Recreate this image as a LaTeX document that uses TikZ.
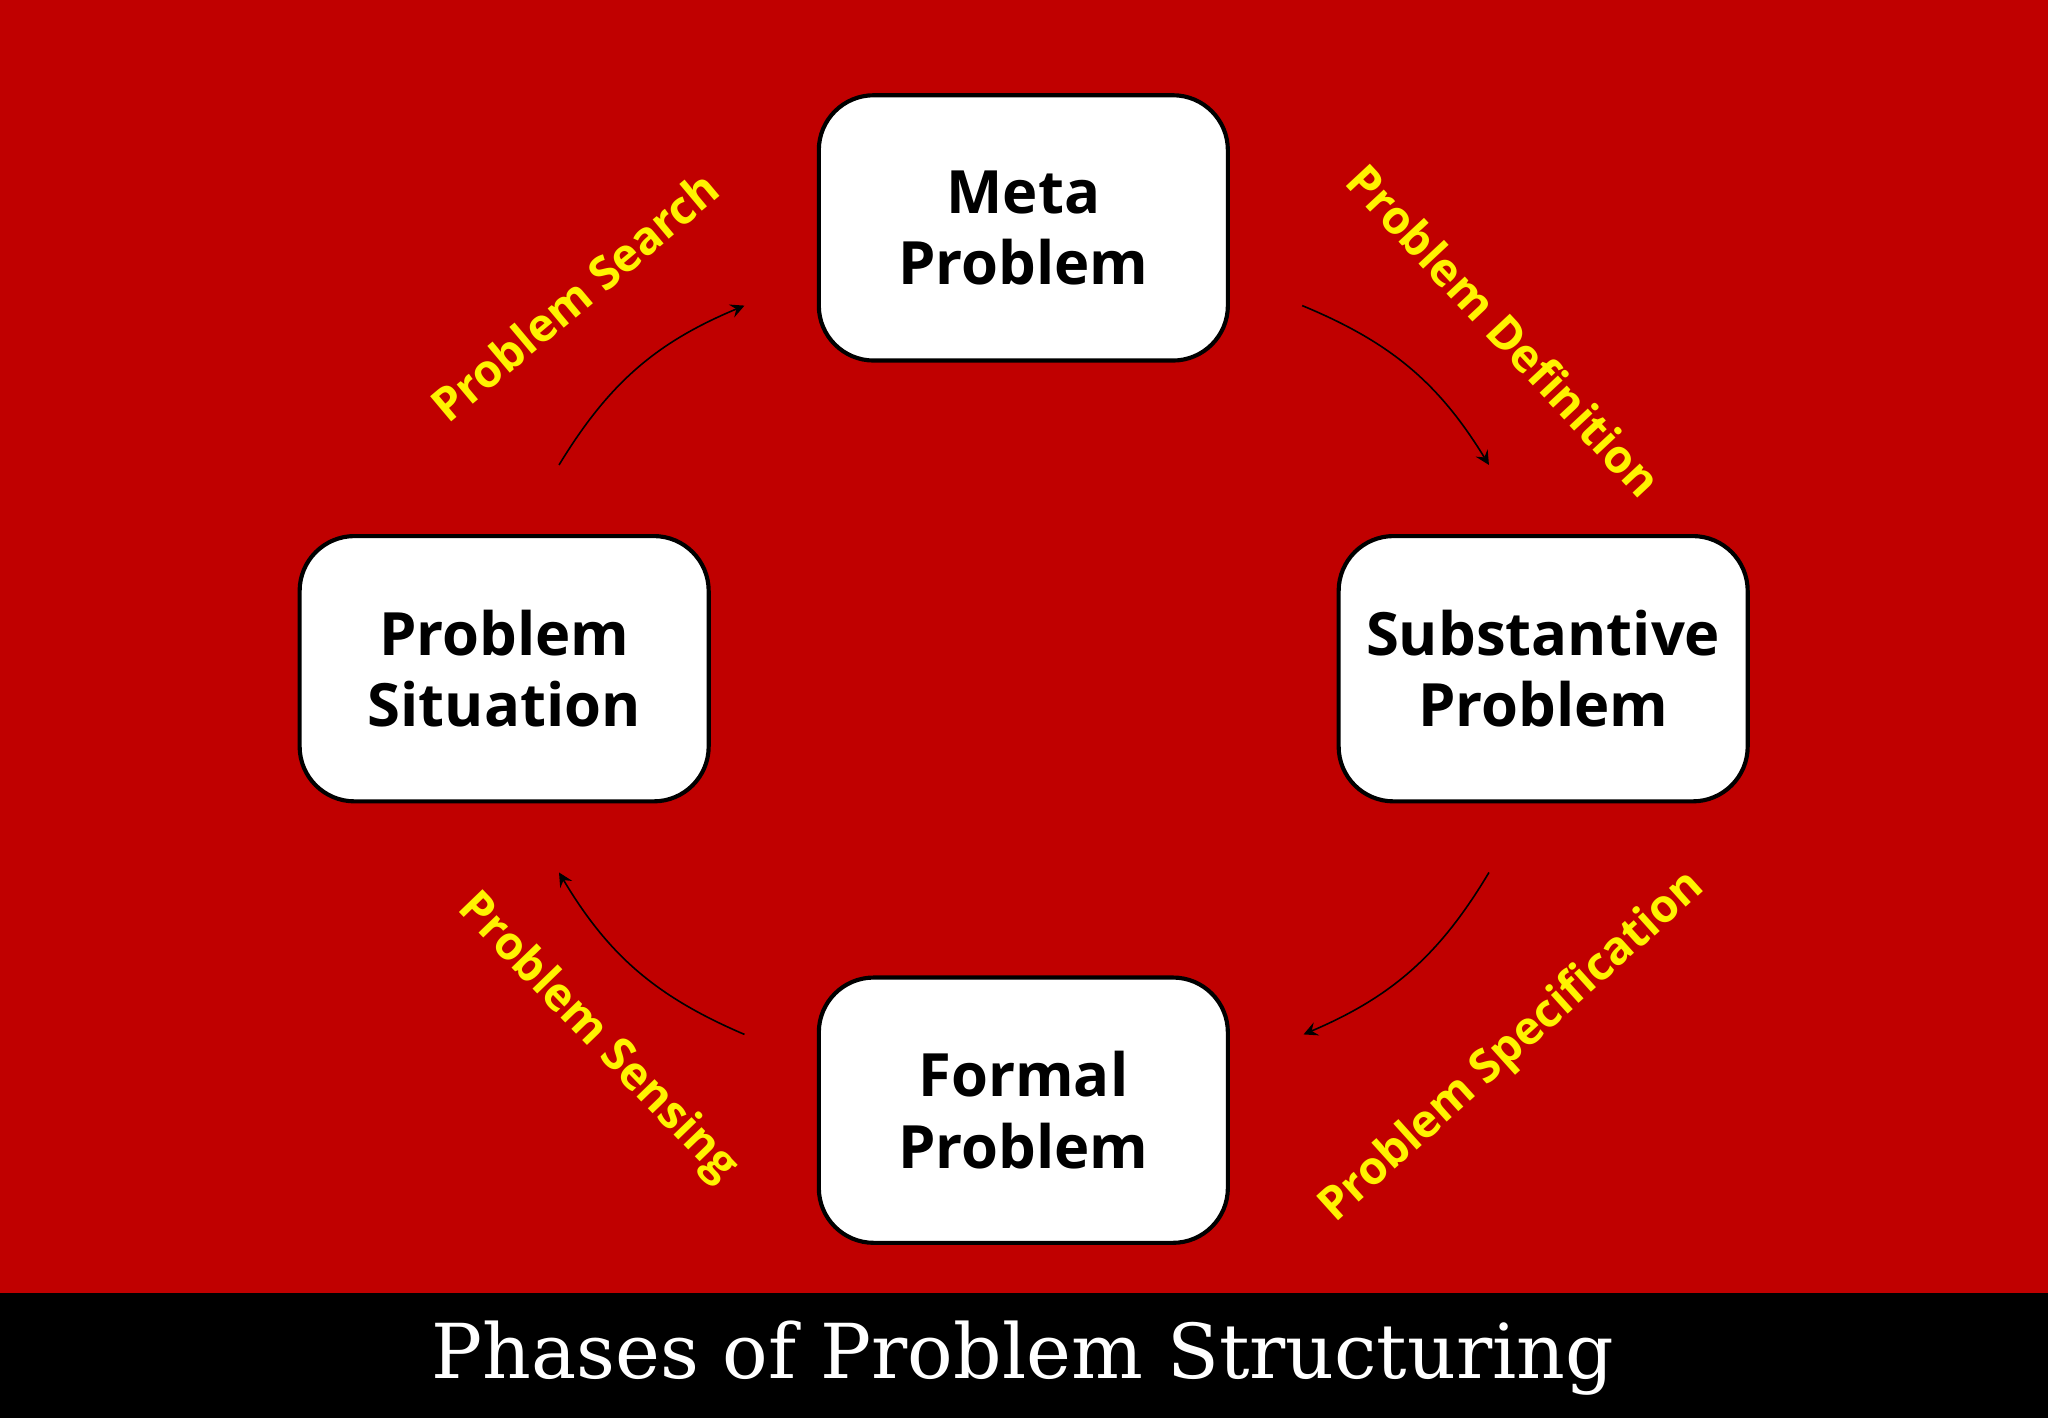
\documentclass[tikz,border=0pt]{standalone}
\usepackage{fontspec}
\setmainfont{Open Sans}
\newfontfamily\titlefont{DejaVu Serif}
\begin{document}
\begin{tikzpicture}[x=0.01cm,y=-0.01cm,
  box/.style={draw=black,line width=0.9pt,fill=white,rounded corners=0.42cm,minimum width=3.13cm,minimum height=2.03cm,align=center,font=\fontsize{13}{15.5}\selectfont\bfseries},
  lab/.style={text=yellow,font=\fontsize{10}{11}\selectfont\bfseries},
  arr/.style={-stealth,line width=0.35pt}]
\definecolor{bg}{HTML}{C00000}
\fill[bg] (0,0) rectangle (1568,990);
\fill[black] (0,990) rectangle (1568,1086);
\useasboundingbox (0,0) rectangle (1568,1086);
\node[box] (meta) at (783.5,174.5) {Meta\\Problem};
\node[box] (sub) at (1181.5,512) {Substantive\\Problem};
\node[box] (sit) at (386,512) {Problem\\Situation};
\node[box] (form) at (783.5,850) {Formal\\Problem};
\node[text=white,font=\titlefont\fontsize{16.5}{18}\selectfont] (title) at (783,1040) {Phases of Problem Structuring};
\coordinate (a1) at (428,356); \coordinate (a2) at (570,234);
\coordinate (b1) at (997,234); \coordinate (b2) at (1140,356);
\coordinate (c1) at (1140,668); \coordinate (c2) at (998,792);
\coordinate (d1) at (570,792); \coordinate (d2) at (428,668);
\draw[arr] (a1) to[bend left=18] (a2);
\draw[arr] (b1) to[bend left=18] (b2);
\draw[arr] (c1) to[bend left=18] (c2);
\draw[arr] (d1) to[bend left=18] (d2);
\node[lab,rotate=40] (ls) at (440,227) {Problem Search};
\node[lab,rotate=-47] (ld) at (1152,253) {Problem Definition};
\node[lab,rotate=42] (lsp) at (1158,802) {Problem Specification};
\node[lab,rotate=-46] (lse) at (457,795) {Problem Sensing};
\end{tikzpicture}
\end{document}
